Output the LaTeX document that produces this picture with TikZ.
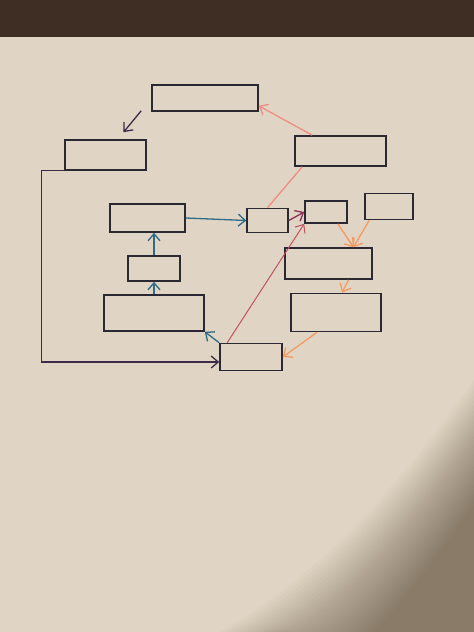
\documentclass[tikz,border=0pt]{standalone}
\usepackage{tikz}
\usepackage{xcolor}
\usetikzlibrary{arrows.meta}

\begin{document}
\begin{tikzpicture}[x=1pt,y=-1pt,
  box/.style={draw=ink,line width=1.6pt,minimum width=#1,inner sep=0pt},
  link/.style={line width=1.3pt,-{Straight Barb[length=7pt,width=12pt]}}]
\definecolor{wood}{HTML}{3E2E24}
\definecolor{paper}{HTML}{E0D5C4}
\definecolor{ink}{HTML}{2A2833}
\definecolor{plum}{HTML}{3D2A48}
\definecolor{teal}{HTML}{2F6A88}
\definecolor{salmon}{HTML}{F08C82}
\definecolor{tangerine}{HTML}{F49A62}
\definecolor{berry}{HTML}{C2525E}
\definecolor{wine}{HTML}{8A3052}
% paper, desk and shadow
\useasboundingbox (0,0) rectangle (474,632);
\fill[paper] (0,0) rectangle (474,632);
\fill[wood] (0,0) rectangle (474,37);
\foreach \s in {0,5,...,125}
{  \fill[black!70!brown,opacity=0.022] (474,380+\s) .. controls (410,470+\s) and (330,570+\s) .. (220+\s,632) -- (474,632) -- cycle;}
% boxes: name/x/y/width/height
\foreach \nm/\x/\y/\w/\h in {top/205/98/106/26, left/105.5/155/81/30, rtop/340.5/151/91/30,
  midleft/147.5/218/75/28, small/154/268.5/52/25, lowleft/154/313/100/36,
  bottom/251/357/62/27, center/267.5/220.5/41/24, near/326/212/42/22,
  far/389/206.5/48/26, rmidA/328.5/263.5/87/31, rmidB/336/312.5/90/38}
{  \node [box=\w pt,minimum height=\h pt] (\nm) at (\x,\y) {};}
% dark connectors
\draw[link,plum] ([xshift=-10pt,yshift=1pt]top.south west) -- ([xshift=18pt,yshift=7pt]left.north);
\draw[link,plum] (left.south west) -- ++(-23,0) |- ([yshift=-5pt]bottom.west);
% blue connectors
\draw[link,teal] (midleft.east) -- (center.west);
\draw[link,teal] (small.north) -- (small.north |- midleft.south);
\draw[link,teal] (lowleft.north) -- (lowleft.north |- small.south);
\draw[link,teal] (bottom.north west) -- (lowleft.south east);
% red and pink connectors
\draw[link,wine] (center.east) -- (near.west);
\draw[link,berry,line width=1pt] ([xshift=8pt]bottom.north west) -- (near.south west);
\draw[salmon,line width=1.3pt] (center.north) -- ([xshift=8pt]rtop.south west);
\draw[link,salmon] ([xshift=18pt]rtop.north west) -- ([yshift=6pt]top.south east);
% orange connectors
\coordinate (meet) at ([xshift=25pt]rmidA.north);
\draw[link,tangerine] ([xshift=5pt]far.south west) -- (meet);
\draw[link,tangerine] ([xshift=-10pt]near.south east) -- (meet);
\draw[link,tangerine] ([xshift=20pt]rmidA.south) -- ([xshift=6pt]rmidB.north);
\draw[link,tangerine] ([xshift=-19pt]rmidB.south) -- (bottom.east);
\end{tikzpicture}
\end{document}
